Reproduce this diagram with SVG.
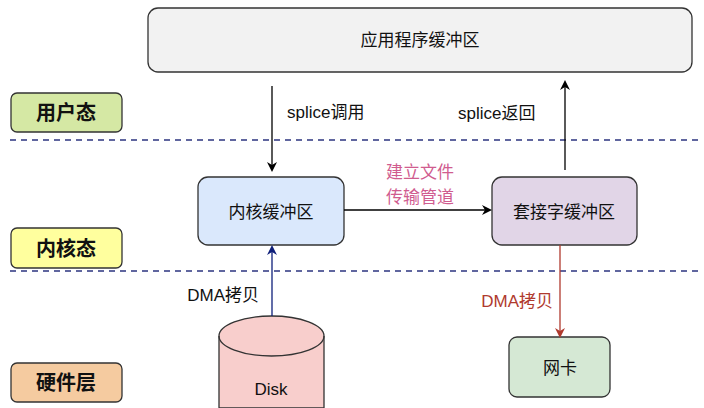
<svg xmlns="http://www.w3.org/2000/svg" width="704" height="408" viewBox="0 0 704 408">
<style>
text{font-family:"Liberation Sans","Noto Sans CJK SC",sans-serif;font-size:17px;fill:#111}
.lab{font-size:20px;font-weight:bold}
.box{stroke:#333;stroke-width:1.3}
.dash{stroke:#2c3580;stroke-width:1.5;stroke-dasharray:6 5}
</style>
<defs>
<marker id="ak" markerWidth="10" markerHeight="10" refX="8" refY="5" orient="auto" markerUnits="userSpaceOnUse"><path d="M0,0 L10,5 L0,10 L3,5Z" fill="#000"/></marker>
<marker id="ab" markerWidth="10" markerHeight="10" refX="8" refY="5" orient="auto" markerUnits="userSpaceOnUse"><path d="M0,0 L10,5 L0,10 L3,5Z" fill="#0f1f7a"/></marker>
<marker id="ar" markerWidth="10" markerHeight="10" refX="8" refY="5" orient="auto" markerUnits="userSpaceOnUse"><path d="M0,0 L10,5 L0,10 L3,5Z" fill="#b03a2e"/></marker>
</defs>
<line class="dash" x1="10" y1="140" x2="700" y2="140"/>
<line class="dash" x1="10" y1="271" x2="700" y2="271"/>
<g id="app"><rect class="box" x="148" y="8" width="544" height="64" rx="10" fill="#f2f2f2" stroke="#666"/><text x="420" y="46" text-anchor="middle">应用程序缓冲区</text></g>
<g id="user"><rect class="box" x="11" y="93" width="111" height="39" rx="6" fill="#d5e8a4"/><text class="lab" x="66" y="120" text-anchor="middle">用户态</text></g>
<g id="kernel"><rect class="box" x="11" y="228" width="111" height="40" rx="6" fill="#ffff9e"/><text class="lab" x="66" y="256" text-anchor="middle">内核态</text></g>
<g id="hw"><rect class="box" x="11" y="363" width="111" height="39" rx="6" fill="#f5cba0"/><text class="lab" x="66" y="390" text-anchor="middle">硬件层</text></g>
<g id="kbuf"><rect class="box" x="198" y="177" width="146" height="68" rx="10" fill="#dae8fc"/><text x="271" y="218" text-anchor="middle">内核缓冲区</text></g>
<g id="sbuf"><rect class="box" x="492" y="177" width="145" height="68" rx="10" fill="#e1d5e7" stroke="#8a7a9a"/><text x="564" y="218" text-anchor="middle">套接字缓冲区</text></g>
<g id="disk"><path class="box" d="M219,336 A52.5,20 0 0 1 324,336 L324,408 L219,408 Z" fill="#f8cecc"/><path d="M219,336 A52.5,20 0 0 0 324,336" fill="none" stroke="#333" stroke-width="1.3"/><text x="271" y="395" text-anchor="middle">Disk</text></g>
<g id="nic"><rect class="box" x="509" y="337" width="101" height="60" rx="8" fill="#d5e8d4" stroke="#82a07e"/><text x="560" y="374" text-anchor="middle">网卡</text></g>
<g id="connectors">
<line x1="272" y1="86" x2="272" y2="170" stroke="#000" stroke-width="1.3" marker-end="url(#ak)"/>
<text x="287" y="118">splice调用</text>
<line x1="565" y1="170" x2="565" y2="82" stroke="#000" stroke-width="1.3" marker-end="url(#ak)"/>
<text x="458" y="119">splice返回</text>
<line x1="344" y1="210" x2="490" y2="210" stroke="#000" stroke-width="1.3" marker-end="url(#ak)"/>
<text x="420" y="178" text-anchor="middle" style="fill:#d05c8f">建立文件</text>
<text x="420" y="203" text-anchor="middle" style="fill:#d05c8f">传输管道</text>
<line x1="272" y1="316" x2="272" y2="247" stroke="#0f1f7a" stroke-width="1.3" marker-end="url(#ab)"/>
<text x="259" y="301" text-anchor="end">DMA拷贝</text>
<line x1="560" y1="245" x2="560" y2="336" stroke="#b03a2e" stroke-width="1.3" marker-end="url(#ar)"/>
<text x="553" y="307" text-anchor="end" style="fill:#b03a2e">DMA拷贝</text>
</g>
</svg>
